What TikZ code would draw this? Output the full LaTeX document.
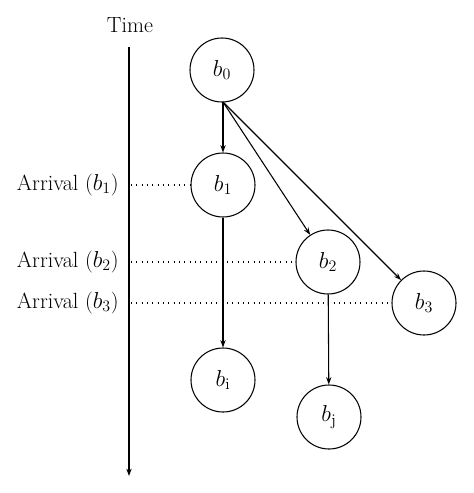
\documentclass[tikz,border=0pt]{standalone}
\usetikzlibrary{arrows.meta}
\begin{document}
\begin{tikzpicture}[x=0.75pt,y=-0.75pt,
  font=\fontsize{16.5}{19}\selectfont,
  blk/.style={draw,circle,line width=0.8pt,minimum size=48pt,inner sep=0pt},
  arr/.style={line width=0.8pt,-{Stealth[length=5.5pt,width=4pt]}},
  dots/.style={line width=0.8pt,dash pattern=on 0.8pt off 3.2pt},
  lbl/.style={anchor=east,inner sep=0pt}]
\useasboundingbox (0,0) rectangle (474,493);
% time axis
\node (time) at (130,25) {Time};
\coordinate (ttop) at (129,47);
\coordinate (tbot) at (129,476);
\draw[arr] (ttop) -- (tbot);
% blocks
\node[blk] (b0) at (222,70) {$b_0$};
\node[blk] (b1) at (223,185) {$b_1$};
\node[blk] (b2) at (328,262) {$b_2$};
\node[blk] (b3) at (424,303) {$b_3$};
\node[blk] (bi) at (223,380) {$b_\mathrm{i}$};
\node[blk] (bj) at (329,417) {$b_\mathrm{j}$};
% edges
\coordinate (b0s) at (223,102);
\draw[arr] (b0s) -- (b1);
\draw[arr] (b0s) -- (b2);
\draw[arr] (b0s) -- (b3);
\draw[arr] (b1) -- (bi);
\draw[arr] (b2) -- (bj);
% arrival labels
\node[lbl] (a1) at (119,185) {Arrival ($b_1$)};
\node[lbl] (a2) at (119,262) {Arrival ($b_2$)};
\node[lbl] (a3) at (119,303) {Arrival ($b_3$)};
\coordinate (t1) at (131,185);
\coordinate (t2) at (131,262);
\coordinate (t3) at (131,303);
\draw[dots] (t1) -- (b1.west);
\draw[dots] (t2) -- (b2.west);
\draw[dots] (t3) -- (b3.west);
\end{tikzpicture}
\end{document}
